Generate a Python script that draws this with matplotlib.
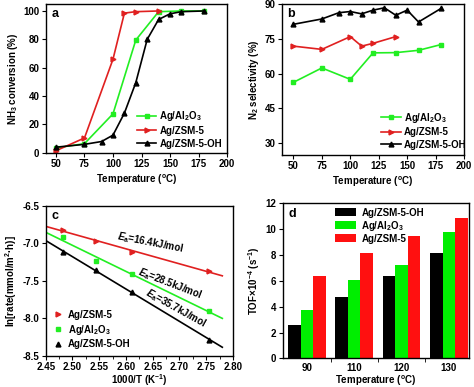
import matplotlib
matplotlib.use('Agg')
import matplotlib.pyplot as plt
import numpy as np
from matplotlib.ticker import FormatStrFormatter, AutoMinorLocator

plt.rcParams['font.family'] = ['Liberation Sans', 'DejaVu Sans']
plt.rcParams['font.weight'] = 'bold'
plt.rcParams['mathtext.fontset'] = 'custom'
plt.rcParams['mathtext.rm'] = 'Liberation Sans:bold'
plt.rcParams['mathtext.bf'] = 'Liberation Sans:bold'
plt.rcParams['mathtext.it'] = 'Liberation Sans:bold:italic'
plt.rcParams['mathtext.default'] = 'rm'
plt.rcParams['axes.linewidth'] = 1.0
plt.rcParams['axes.labelpad'] = 2.5
plt.rcParams['xtick.direction'] = 'out'
plt.rcParams['ytick.direction'] = 'out'
plt.rcParams['xtick.labelsize'] = 7
plt.rcParams['ytick.labelsize'] = 7
plt.rcParams['xtick.major.size'] = 3
plt.rcParams['ytick.major.size'] = 3
plt.rcParams['xtick.major.pad'] = 1.5
plt.rcParams['ytick.major.pad'] = 1.5

GREEN = '#22ee22'
RED = '#e02020'
BLACK = 'black'
FS = 7

# panel a: NH3 conversion
a_T_al = [50, 75, 100, 120, 140, 160, 180]
a_al = [3.5, 6.5, 27.5, 79.5, 99.5, 100, 100]
a_T_zsm = [50, 75, 100, 110, 120, 140]
a_zsm = [1.5, 10.5, 66, 98.5, 99.5, 100]
a_T_oh = [50, 75, 90, 100, 110, 120, 130, 140, 150, 160, 180]
a_oh = [4, 6, 8, 12.5, 28, 49.5, 80, 94, 98, 99.5, 100]

# panel b: N2 selectivity
b_T_al = [50, 75, 100, 120, 140, 160, 180]
b_al = [56.2, 62.4, 57.5, 68.9, 69.0, 70.0, 72.5]
b_T_zsm = [50, 75, 100, 110, 120, 140]
b_zsm = [71.8, 70.4, 75.9, 71.8, 73.0, 75.9]
b_T_oh = [50, 75, 90, 100, 110, 120, 130, 140, 150, 160, 180]
b_oh = [81.2, 83.5, 86.2, 86.7, 85.7, 87.3, 88.3, 85.1, 87.3, 82.2, 88.1]

# panel c: Arrhenius
c_x = [2.482, 2.544, 2.611, 2.755]
c_zsm = [-6.82, -6.97, -7.12, -7.37]
c_al = [-6.92, -7.24, -7.41, -7.90]
c_oh = [-7.11, -7.36, -7.65, -8.28]

# panel d: TOF
d_temps = ['90', '110', '120', '130']
d_oh = [2.55, 4.75, 6.35, 8.15]
d_al = [3.75, 6.05, 7.2, 9.8]
d_zsm = [6.35, 8.15, 9.5, 10.9]

fig = plt.figure(figsize=(4.74, 3.87), dpi=100)
ax1 = fig.add_axes([0.0964, 0.605, 0.3826, 0.385])
ax2 = fig.add_axes([0.595, 0.600, 0.384, 0.390])
ax3 = fig.add_axes([0.0964, 0.080, 0.3952, 0.3885])
ax4 = fig.add_axes([0.5964, 0.074, 0.3926, 0.4007])

lab_al = 'Ag/Al$_2$O$_3$'
lab_zsm = 'Ag/ZSM-5'
lab_oh = 'Ag/ZSM-5-OH'
ms = 3.5
lw = 1.2

# a
ax1.plot(a_T_al, a_al, '-s', color=GREEN, ms=ms, lw=lw, label=lab_al)
ax1.plot(a_T_zsm, a_zsm, '->', color=RED, ms=ms, lw=lw, label=lab_zsm)
ax1.plot(a_T_oh, a_oh, '-^', color=BLACK, ms=ms, lw=lw, label=lab_oh)
ax1.set_xlim(41, 200)
ax1.set_ylim(0, 105)
ax1.set_xticks([50, 75, 100, 125, 150, 175, 200])
ax1.set_yticks([0, 20, 40, 60, 80, 100])
ax1.set_xlabel('Temperature ($^{o}$C)', fontsize=FS, fontweight='bold')
ax1.set_ylabel('NH$_3$ conversion (%)', fontsize=FS, fontweight='bold')
ax1.legend(loc='lower right', frameon=False, fontsize=FS, handlelength=2.0,
           handletextpad=0.3, borderaxespad=0.5, labelspacing=0.28,
           bbox_to_anchor=(1.02, -0.03))
ax1.text(0.03, 0.97, 'a', transform=ax1.transAxes, fontsize=9, fontweight='bold', va='top')

# b
ax2.plot(b_T_al, b_al, '-s', color=GREEN, ms=ms, lw=lw, label=lab_al)
ax2.plot(b_T_zsm, b_zsm, '->', color=RED, ms=ms, lw=lw, label=lab_zsm)
ax2.plot(b_T_oh, b_oh, '-^', color=BLACK, ms=ms, lw=lw, label=lab_oh)
ax2.set_xlim(40, 200)
ax2.set_ylim(25, 90)
ax2.set_xticks([50, 75, 100, 125, 150, 175, 200])
ax2.set_yticks([30, 45, 60, 75, 90])
ax2.set_xlabel('Temperature ($^{o}$C)', fontsize=FS, fontweight='bold')
ax2.set_ylabel('N$_2$ selectivity (%)', fontsize=FS, fontweight='bold')
ax2.legend(loc='lower right', frameon=False, fontsize=FS, handlelength=2.0,
           handletextpad=0.3, borderaxespad=0.3, labelspacing=0.25,
           bbox_to_anchor=(1.05, -0.01))
ax2.text(0.03, 0.97, 'b', transform=ax2.transAxes, fontsize=9, fontweight='bold', va='top')

# c
xfit = np.array([2.45, 2.78])
for yv, col, mk, lab in [(c_zsm, RED, '>', lab_zsm), (c_al, GREEN, 's', lab_al),
                         (c_oh, BLACK, '^', lab_oh)]:
    k, b = np.polyfit(c_x, yv, 1)
    ax3.plot(xfit, k * xfit + b, '-', color=col, lw=lw)
    ax3.plot(c_x, yv, mk, color=col, ms=ms, ls='none', label=lab)
ax3.set_xlim(2.45, 2.80)
ax3.set_ylim(-8.5, -6.5)
ax3.set_xticks(np.arange(2.45, 2.801, 0.05))
ax3.xaxis.set_minor_locator(AutoMinorLocator(2))
ax3.tick_params(axis='x', which='minor', length=2)
ax3.set_yticks([-8.5, -8.0, -7.5, -7.0, -6.5])
ax3.xaxis.set_major_formatter(FormatStrFormatter('%.2f'))
ax3.yaxis.set_major_formatter(FormatStrFormatter('%.1f'))
ax3.set_xlabel('1000/T (K$^{-1}$)', fontsize=FS, fontweight='bold', labelpad=0)
ax3.set_ylabel('ln[rate(mmol/m$^2$·h)]', fontsize=FS, fontweight='bold')
ax3.legend(loc='lower left', frameon=False, fontsize=FS, handlelength=1.2,
           handletextpad=0.4, borderaxespad=0.3, labelspacing=0.28)
ax3.text(0.03, 0.97, 'c', transform=ax3.transAxes, fontsize=9, fontweight='bold', va='top')
ax3.text(2.5825, -6.945, '$\\mathit{E}_a$=16.4kJ/mol', fontsize=FS, rotation=-11,
         rotation_mode='anchor', ha='left', va='baseline')
ax3.text(2.6207, -7.418, '$\\mathit{E}_a$=28.5kJ/mol', fontsize=FS, rotation=-21,
         rotation_mode='anchor', ha='left', va='baseline')
ax3.text(2.6356, -7.683, '$\\mathit{E}_a$=35.7kJ/mol', fontsize=FS, rotation=-29,
         rotation_mode='anchor', ha='left', va='baseline')

# d
x = np.arange(len(d_temps))
w = 0.264
ax4.bar(x - w, d_oh, w, color=BLACK, label=lab_oh)
ax4.bar(x, d_al, w, color='#00ee00', label=lab_al)
ax4.bar(x + w, d_zsm, w, color='#ff1010', label=lab_zsm)
ax4.set_xlim(-0.51, 3.42)
ax4.set_ylim(0, 12)
ax4.set_xticks(x)
ax4.set_xticklabels(d_temps)
ax4.tick_params(axis='x', length=0, pad=3)
ax4.set_xticks(x[:-1] + 0.5, minor=True)
ax4.tick_params(axis='x', which='minor', length=3)
ax4.set_yticks([0, 2, 4, 6, 8, 10, 12])
ax4.set_xlabel('Temperature ($^{o}$C)', fontsize=FS, fontweight='bold', labelpad=1)
ax4.set_ylabel('TOF×10$^{-4}$ (s$^{-1}$)', fontsize=FS, fontweight='bold')
ax4.legend(loc='upper left', frameon=False, fontsize=FS, handlelength=2.2,
           handleheight=0.85, handletextpad=0.5, borderaxespad=0.2,
           labelspacing=0.1, bbox_to_anchor=(0.25, 1.01))
ax4.text(0.03, 0.97, 'd', transform=ax4.transAxes, fontsize=9, fontweight='bold', va='top')

fig.savefig('out.png', dpi=100)
